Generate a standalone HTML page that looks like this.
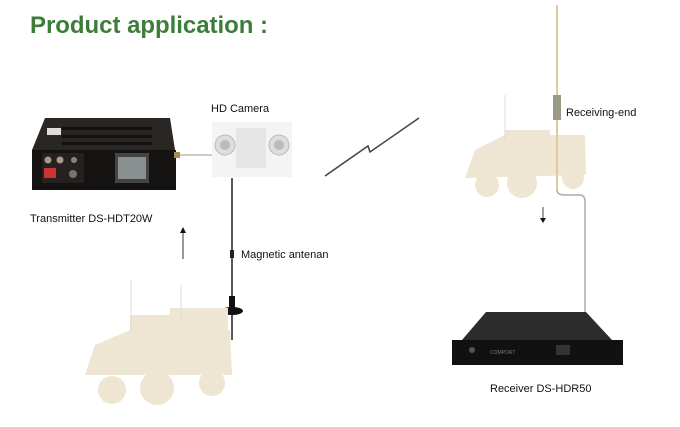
<!DOCTYPE html>
<html><head><style>
html,body{margin:0;padding:0;background:#fff;width:680px;height:427px;overflow:hidden}
svg{display:block}
text{font-family:"Liberation Sans",sans-serif}
</style></head><body>
<svg width="680" height="427" viewBox="0 0 680 427">
<text x="30" y="33" font-size="24" font-weight="bold" fill="#3d7d3a" textLength="238">Product application :</text>

<!-- transmitter -->
<polygon points="45,118 170,118 175,150 32,150" fill="#2a2623"/>
<rect x="62" y="127" width="90" height="3" fill="#111"/>
<rect x="62" y="135" width="90" height="3" fill="#111"/>
<rect x="62" y="142" width="90" height="3" fill="#111"/>
<rect x="47" y="128" width="14" height="7" fill="#ddd"/>
<rect x="32" y="150" width="144" height="40" fill="#151312"/>
<rect x="42" y="153" width="42" height="30" fill="#242120"/>
<circle cx="48" cy="160" r="3.5" fill="#a98"/>
<circle cx="60" cy="160" r="3.5" fill="#a98"/>
<circle cx="74" cy="160" r="3" fill="#887"/>
<rect x="44" y="168" width="12" height="10" fill="#c33"/>
<circle cx="73" cy="174" r="4" fill="#776"/>
<rect x="115" y="153" width="34" height="30" fill="#444"/>
<rect x="118" y="157" width="28" height="22" fill="#8a8f90"/>
<rect x="174" y="152" width="6" height="6" fill="#a88a4a"/>
<line x1="180" y1="155" x2="214" y2="155" stroke="#bbb" stroke-width="1.5"/>

<!-- camera -->
<rect x="212" y="122" width="80" height="55" fill="#f4f4f4"/>
<rect x="236" y="128" width="30" height="40" fill="#e6e6e6"/>
<circle cx="225" cy="145" r="10" fill="#ddd" stroke="#bbb"/>
<circle cx="225" cy="145" r="5" fill="#bbb"/>
<circle cx="279" cy="145" r="10" fill="#ddd" stroke="#bbb"/>
<circle cx="279" cy="145" r="5" fill="#bbb"/>
<text x="211" y="112" font-size="11" fill="#111">HD Camera</text>

<!-- magnetic antenna -->
<line x1="232" y1="178" x2="232" y2="340" stroke="#222" stroke-width="1.5"/>
<rect x="230" y="250" width="4" height="8" fill="#222"/>
<rect x="229" y="296" width="6" height="12" fill="#111"/>
<ellipse cx="232" cy="311" rx="11" ry="4" fill="#111"/>
<text x="241" y="258" font-size="11" fill="#111">Magnetic antenan</text>

<!-- arrow up -->
<line x1="183" y1="232" x2="183" y2="259" stroke="#777" stroke-width="1.5"/>
<polygon points="180,233 186,233 183,227" fill="#111"/>
<text x="30" y="222" font-size="11" fill="#111">Transmitter DS-HDT20W</text>

<!-- left vehicle -->
<g fill="#efe5d3">
<rect x="130" y="315" width="40" height="30"/>
<rect x="170" y="308" width="58" height="45"/>
<polygon points="95,345 130,330 230,330 232,375 85,375"/>
<circle cx="112" cy="390" r="14"/>
<circle cx="157" cy="388" r="17"/>
<circle cx="212" cy="383" r="13"/>
</g>
<line x1="131" y1="280" x2="131" y2="330" stroke="#ddd"/>
<line x1="181" y1="285" x2="181" y2="320" stroke="#ddd"/>

<!-- lightning -->
<polyline points="325,176 368,146 370,152 419,118" fill="none" stroke="#444" stroke-width="1.5"/>

<!-- right vehicle -->
<g fill="#efe5d3">
<rect x="505" y="130" width="45" height="40"/>
<polygon points="475,150 505,135 585,135 586,175 465,178"/>
<circle cx="487" cy="185" r="12"/>
<circle cx="522" cy="183" r="15"/>
<circle cx="573" cy="178" r="11"/>
</g>
<line x1="505" y1="95" x2="505" y2="140" stroke="#ddd"/>
<line x1="557" y1="5" x2="557" y2="190" stroke="#e0c9a0" stroke-width="2"/>
<rect x="553" y="95" width="8" height="25" fill="#998"/>
<path d="M557 190 Q557 195 565 195 L580 195 Q585 195 585 202 L585 313" fill="none" stroke="#aaa" stroke-width="1.5"/>
<text x="566" y="116" font-size="11" fill="#111">Receiving-end</text>

<!-- arrow down -->
<line x1="543" y1="207" x2="543" y2="220" stroke="#444" stroke-width="1"/>
<polygon points="540,218 546,218 543,223" fill="#111"/>

<!-- receiver -->
<polygon points="486,312 586,312 612,340 462,340" fill="#2c2c2c"/>
<rect x="452" y="340" width="171" height="25" fill="#111"/>
<rect x="556" y="345" width="14" height="10" fill="#333"/>
<circle cx="472" cy="350" r="3" fill="#555"/>
<text x="490" y="354" font-size="5" fill="#777">COMPORT</text>
<text x="490" y="392" font-size="11" fill="#111">Receiver DS-HDR50</text>
</svg>
</body></html>
